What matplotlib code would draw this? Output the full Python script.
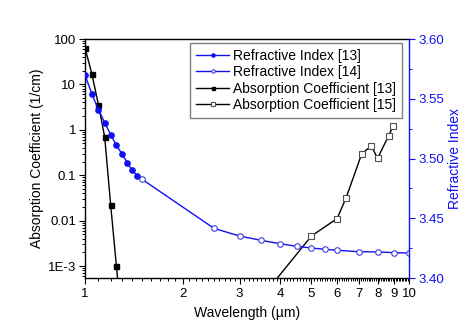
import numpy as np
import matplotlib
matplotlib.use("Agg")
import matplotlib.pyplot as plt
from matplotlib.ticker import FixedLocator, FixedFormatter, NullFormatter, LogLocator

plt.rcParams['font.family'] = ['Liberation Sans', 'DejaVu Sans']
plt.rcParams['font.size'] = 10

# Refractive index [13]
wl_n13 = [1.00, 1.05, 1.10, 1.15, 1.20, 1.25, 1.30, 1.35, 1.40, 1.45]
n13 = [3.570, 3.554, 3.541, 3.530, 3.520, 3.511, 3.504, 3.4965, 3.490, 3.4856]

# Refractive index [14]
wl_n14 = [1.5, 2.5, 3.0, 3.5, 4.0, 4.5, 5.0, 5.5, 6.0, 7.0, 8.0, 9.0, 10.0]
n14 = [3.4826, 3.4416, 3.4351, 3.4315, 3.4287, 3.4265, 3.4251, 3.4240,
       3.4232, 3.4220, 3.4218, 3.4212, 3.4209]

# Absorption coefficient [13] (1/cm)
wl_a13 = [0.98, 1.00, 1.05, 1.10, 1.15, 1.20, 1.25, 1.30]
a13 = [250, 64, 17, 3.6, 0.70, 0.0224, 1.0e-3, 5e-5]

# Absorption coefficient [15] (1/cm)
wl_a15 = [3.5, 5.0, 6.0, 6.4, 7.15, 7.65, 8.0, 8.65, 8.95]
a15 = [2e-4, 4.6e-3, 0.0111, 0.0323, 0.298, 0.44, 0.236, 0.741, 1.23]

x_major = [1, 2, 3, 4, 5, 6, 7, 8, 9, 10]
x_labels = ["1", "2", "3", "4", "5", "6", "7", "8", "9", "10"]
y_major = [1e-3, 1e-2, 1e-1, 1, 10, 100]
y_labels = ["1E-3", "0.01", "0.1", "1", "10", "100"]
n_major = [3.40, 3.45, 3.50, 3.55, 3.60]

blue = '#1010f0'

fig = plt.figure(figsize=(4.74, 3.35), dpi=100)
ax = fig.add_axes([85/474, 1-278/335, (409-85)/474, (278-39)/335])
ax2 = ax.twinx()

ax.set_xscale('log')
ax.set_yscale('log')
ax.set_xlim(1, 10)
ax.set_ylim(5.45e-4, 100)
ax2.set_ylim(3.40, 3.60)

l3, = ax.plot(wl_a13, a13, color='black', lw=1.0, marker='s', ms=3.6,
              mfc='black', mec='black', label='Absorption Coefficient [13]')
l4, = ax.plot(wl_a15, a15, color='black', lw=1.0, marker='s', ms=4.0,
              mfc='white', mec='#505050', mew=0.8, label='Absorption Coefficient [15]')
l1, = ax2.plot(wl_n13, n13, color=blue, lw=1.0, marker='o', ms=3.8,
               mfc=blue, mec=blue, label='Refractive Index [13]')
l2, = ax2.plot(wl_n14, n14, color=blue, lw=1.0, marker='o', ms=4.0,
               mfc='white', mec='#4040e0', mew=0.8, label='Refractive Index [14]')

# x axis ticks
ax.xaxis.set_major_locator(FixedLocator(x_major))
ax.xaxis.set_major_formatter(FixedFormatter(x_labels))
ax.xaxis.set_minor_locator(FixedLocator(np.arange(1.1, 10.0, 0.1)))
ax.xaxis.set_minor_formatter(NullFormatter())

# left y ticks
ax.yaxis.set_major_locator(FixedLocator(y_major))
ax.yaxis.set_major_formatter(FixedFormatter(y_labels))
ax.yaxis.set_minor_locator(LogLocator(base=10, subs=np.arange(2, 10)))
ax.yaxis.set_minor_formatter(NullFormatter())

# right y ticks
ax2.yaxis.set_major_locator(FixedLocator(n_major))
ax2.yaxis.set_major_formatter(FixedFormatter(["3.40", "3.45", "3.50", "3.55", "3.60"]))
ax2.yaxis.set_minor_locator(FixedLocator([3.425, 3.475, 3.525, 3.575]))

for a in (ax, ax2):
    a.tick_params(which='major', direction='out', length=4.0, width=0.8,
                  labelsize=9.5, pad=2.5)
    a.tick_params(which='minor', direction='out', length=2.2, width=0.7)

ax.tick_params(axis='y', which='both', right=False)
ax.tick_params(axis='x', which='major', pad=3.5)
ax2.tick_params(axis='y', which='both', colors=blue, labelcolor=blue)
ax2.spines['right'].set_color(blue)
ax2.spines['right'].set_linewidth(1.0)
for s in ('top', 'left', 'bottom'):
    ax.spines[s].set_linewidth(1.0)
ax2.spines['left'].set_visible(False)
ax2.spines['top'].set_visible(False)
ax2.spines['bottom'].set_visible(False)
ax.spines['right'].set_visible(False)

ax.set_xlabel('Wavelength (µm)', fontsize=10, labelpad=4)
ax.set_ylabel('Absorption Coefficient (1/cm)', fontsize=10, labelpad=3)
ax2.set_ylabel('Refractive Index', fontsize=10, color=blue, labelpad=3)

leg = ax2.legend(handles=[l1, l2, l3, l4], loc='upper right',
                 bbox_to_anchor=(402/474, 1-43/335), bbox_transform=fig.transFigure,
                 borderaxespad=0, fancybox=False, framealpha=1, edgecolor='#808080',
                 fontsize=10, handlelength=2.4, handletextpad=0.3, labelspacing=0.18,
                 markerscale=0.6, borderpad=0.4)
leg.get_frame().set_linewidth(1.0)

fig.savefig('out.png', dpi=100)
